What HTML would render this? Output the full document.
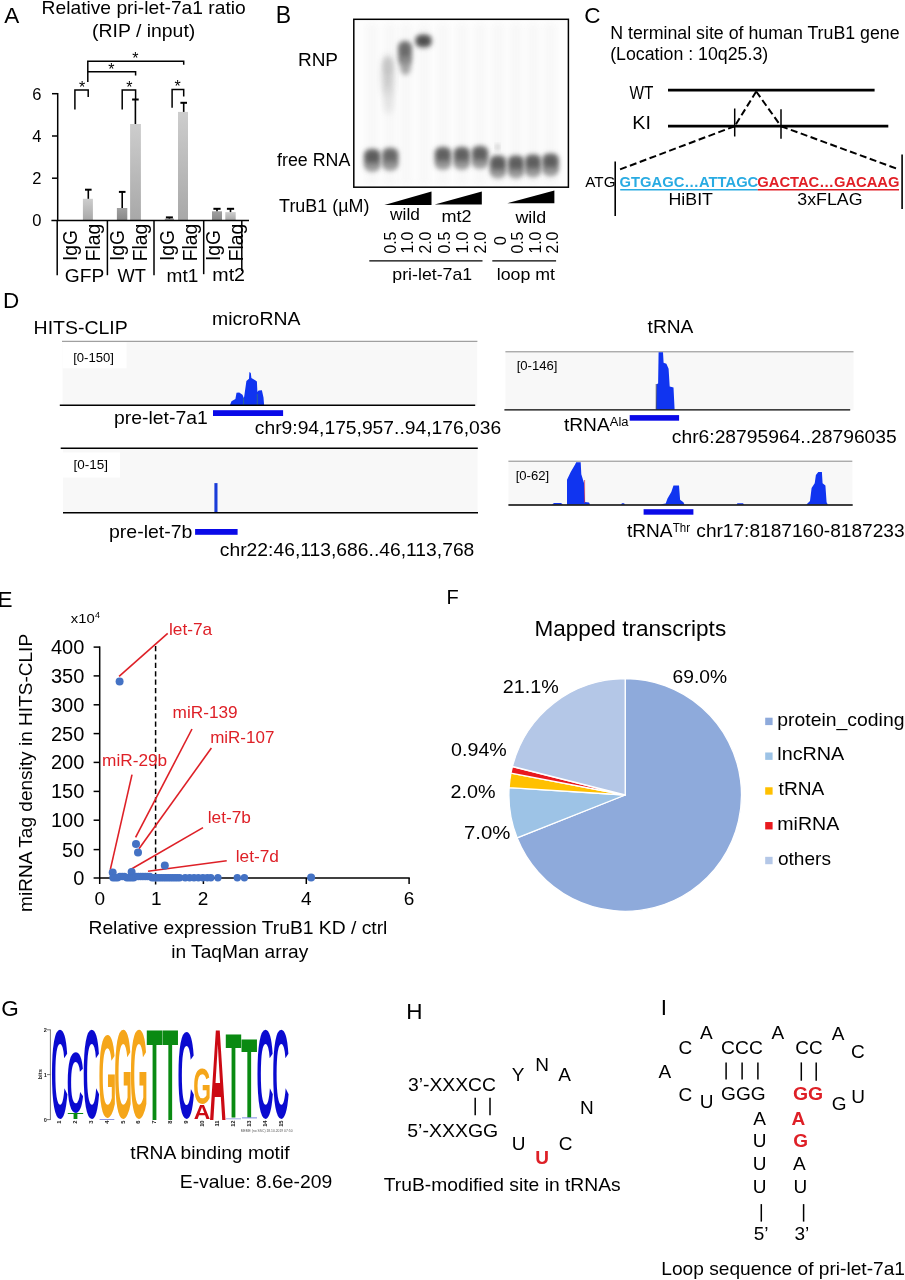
<!DOCTYPE html>
<html><head><meta charset="utf-8"><title>Figure</title>
<style>html,body{margin:0;padding:0;background:#fff}svg{display:block;will-change:transform}text{font-family:"Liberation Sans",sans-serif}</style></head><body>
<svg width="905" height="1280" viewBox="0 0 905 1280" font-family="Liberation Sans, sans-serif">
<defs>
<linearGradient id="gbL" x1="0" y1="0" x2="0" y2="1"><stop offset="0" stop-color="#cdcdcd"/><stop offset="1" stop-color="#a8a8a8"/></linearGradient>
<linearGradient id="gbD" x1="0" y1="0" x2="0" y2="1"><stop offset="0" stop-color="#a0a0a0"/><stop offset="1" stop-color="#888"/></linearGradient>
<filter id="bl" x="-50%" y="-50%" width="200%" height="200%"><feGaussianBlur stdDeviation="2.6"/></filter>
<filter id="bl2" x="-50%" y="-50%" width="200%" height="200%"><feGaussianBlur stdDeviation="3.5"/></filter>
<clipPath id="gelclip"><rect x="354" y="19.5" width="214" height="167.5"/></clipPath>
</defs>
<rect width="905" height="1280" fill="#fff"/>
<g id="pA">
<text x="4.2" y="22.6" font-size="22.5" >A</text>
<text x="41.58" y="14.2" font-size="19" textLength="204.19" lengthAdjust="spacingAndGlyphs" >Relative pri-let-7a1 ratio</text>
<text x="92.08" y="37.2" font-size="19" textLength="103.19" lengthAdjust="spacingAndGlyphs" >(RIP / input)</text>
<rect x="82.9" y="198.8" width="10" height="21.599999999999994" fill="url(#gbL)" />
<rect x="116.9" y="208" width="10.4" height="12.400000000000006" fill="url(#gbD)" />
<rect x="130.1" y="124" width="10.8" height="96.4" fill="url(#gbL)" />
<rect x="164.8" y="218.6" width="9.2" height="1.8000000000000114" fill="url(#gbD)" />
<rect x="178" y="111.9" width="10" height="108.5" fill="url(#gbL)" />
<rect x="212" y="211.3" width="10" height="9.099999999999994" fill="url(#gbD)" />
<rect x="225.3" y="212.1" width="10.4" height="8.300000000000011" fill="url(#gbL)" />
<line x1="88.3" y1="189.7" x2="88.3" y2="198.8" stroke="#000" stroke-width="1.6" />
<line x1="85.0" y1="189.7" x2="91.6" y2="189.7" stroke="#000" stroke-width="2" />
<line x1="122.2" y1="191.9" x2="122.2" y2="208" stroke="#000" stroke-width="1.6" />
<line x1="118.9" y1="191.9" x2="125.5" y2="191.9" stroke="#000" stroke-width="2" />
<line x1="135.4" y1="99.5" x2="135.4" y2="124" stroke="#000" stroke-width="1.6" />
<line x1="132.1" y1="99.5" x2="138.70000000000002" y2="99.5" stroke="#000" stroke-width="2" />
<line x1="169.4" y1="217.4" x2="169.4" y2="218.6" stroke="#000" stroke-width="1.6" />
<line x1="165.9" y1="217.4" x2="172.9" y2="217.4" stroke="#000" stroke-width="2" />
<line x1="183.7" y1="102.8" x2="183.7" y2="111.9" stroke="#000" stroke-width="1.6" />
<line x1="180.39999999999998" y1="102.8" x2="187.0" y2="102.8" stroke="#000" stroke-width="2" />
<line x1="217" y1="208.8" x2="217" y2="211.3" stroke="#000" stroke-width="1.6" />
<line x1="213.4" y1="208.8" x2="220.6" y2="208.8" stroke="#000" stroke-width="2" />
<line x1="230.5" y1="208.8" x2="230.5" y2="212.1" stroke="#000" stroke-width="1.6" />
<line x1="226.9" y1="208.8" x2="234.1" y2="208.8" stroke="#000" stroke-width="2" />
<line x1="57.7" y1="93" x2="57.7" y2="221.1" stroke="#000" stroke-width="1.5" />
<line x1="51.4" y1="220.4" x2="249" y2="220.4" stroke="#000" stroke-width="1.5" />
<line x1="52" y1="93.7" x2="57.7" y2="93.7" stroke="#000" stroke-width="1.5" />
<line x1="52" y1="136" x2="57.7" y2="136" stroke="#000" stroke-width="1.5" />
<line x1="52" y1="178.2" x2="57.7" y2="178.2" stroke="#000" stroke-width="1.5" />
<text x="41.5" y="99.60000000000001" font-size="16.5" text-anchor="end" >6</text>
<text x="41.5" y="141.9" font-size="16.5" text-anchor="end" >4</text>
<text x="41.5" y="184.1" font-size="16.5" text-anchor="end" >2</text>
<text x="41.5" y="226.3" font-size="16.5" text-anchor="end" >0</text>
<line x1="57.2" y1="220.4" x2="57.2" y2="275.2" stroke="#000" stroke-width="1.5" />
<line x1="107.4" y1="220.4" x2="107.4" y2="275.2" stroke="#000" stroke-width="1.5" />
<line x1="154" y1="220.4" x2="154" y2="275.2" stroke="#000" stroke-width="1.5" />
<line x1="203.7" y1="220.4" x2="203.7" y2="274.2" stroke="#000" stroke-width="1.5" />
<line x1="241.8" y1="220.4" x2="241.8" y2="271" stroke="#000" stroke-width="1.5" />
<text transform="translate(76.8,261) rotate(-90)" font-size="19.3">IgG</text>
<text transform="translate(123.8,261) rotate(-90)" font-size="19.3">IgG</text>
<text transform="translate(173.9,261) rotate(-90)" font-size="19.3">IgG</text>
<text transform="translate(219.5,261) rotate(-90)" font-size="19.3">IgG</text>
<text transform="translate(99.9,261.2) rotate(-90)" font-size="19.3">Flag</text>
<text transform="translate(147.3,261.2) rotate(-90)" font-size="19.3">Flag</text>
<text transform="translate(197,261.2) rotate(-90)" font-size="19.3">Flag</text>
<text transform="translate(242.6,261.2) rotate(-90)" font-size="19.3">Flag</text>
<text x="64.76" y="281.7" font-size="18.5" textLength="39.48" lengthAdjust="spacingAndGlyphs" >GFP</text>
<text x="117.61" y="281.7" font-size="18.5" textLength="28.38" lengthAdjust="spacingAndGlyphs" >WT</text>
<text x="166.61" y="282.2" font-size="18.5" textLength="31.77" lengthAdjust="spacingAndGlyphs" >mt1</text>
<text x="212.31" y="281" font-size="18.5" textLength="32.73" lengthAdjust="spacingAndGlyphs" >mt2</text>
<path d="M87.8,82 V61.3 H183.7 V64.8" stroke="#000" stroke-width="1.5" fill="none" />
<path d="M87.8,71.8 H135.6 V75.6" stroke="#000" stroke-width="1.5" fill="none" />
<path d="M74.9,109.4 V90 H88.2 V97" stroke="#000" stroke-width="1.5" fill="none" />
<path d="M122.2,109.4 V90 H135.6 V99.5" stroke="#000" stroke-width="1.5" fill="none" />
<path d="M172.1,107.7 V89.5 H183.7 V96.5" stroke="#000" stroke-width="1.5" fill="none" />
<text x="82" y="92.8" font-size="16" text-anchor="middle" >*</text>
<text x="111.4" y="74.8" font-size="16" text-anchor="middle" >*</text>
<text x="135.4" y="63.7" font-size="16" text-anchor="middle" >*</text>
<text x="129.3" y="92.8" font-size="16" text-anchor="middle" >*</text>
<text x="177.6" y="92.4" font-size="16" text-anchor="middle" >*</text>
</g>
<g id="pB">
<text x="275.8" y="23" font-size="23" >B</text>
<text x="297.91" y="66.4" font-size="18.5" textLength="40.13" lengthAdjust="spacingAndGlyphs" >RNP</text>
<text x="277.11" y="166.2" font-size="18" textLength="73.18" lengthAdjust="spacingAndGlyphs" >free RNA</text>
<text x="279.11" y="212.4" font-size="17.5" textLength="90.29" lengthAdjust="spacingAndGlyphs" >TruB1 (µM)</text>
<g clip-path="url(#gelclip)">
<rect x="354" y="19.5" width="214" height="167.5" fill="#fdfdfd" />
<rect x="366" y="24" width="12" height="160" fill="#f5f5f5" filter="url(#bl)" opacity="0.6"/>
<rect x="384" y="24" width="12" height="160" fill="#f5f5f5" filter="url(#bl)" opacity="0.6"/>
<rect x="400" y="24" width="12" height="160" fill="#f5f5f5" filter="url(#bl)" opacity="0.6"/>
<rect x="418" y="24" width="12" height="160" fill="#f5f5f5" filter="url(#bl)" opacity="0.6"/>
<rect x="437" y="24" width="12" height="160" fill="#f5f5f5" filter="url(#bl)" opacity="0.6"/>
<rect x="456" y="24" width="12" height="160" fill="#f5f5f5" filter="url(#bl)" opacity="0.6"/>
<rect x="474" y="24" width="12" height="160" fill="#f5f5f5" filter="url(#bl)" opacity="0.6"/>
<rect x="492" y="24" width="12" height="160" fill="#f5f5f5" filter="url(#bl)" opacity="0.6"/>
<rect x="510" y="24" width="12" height="160" fill="#f5f5f5" filter="url(#bl)" opacity="0.6"/>
<rect x="527" y="24" width="12" height="160" fill="#f5f5f5" filter="url(#bl)" opacity="0.6"/>
<rect x="544" y="24" width="12" height="160" fill="#f5f5f5" filter="url(#bl)" opacity="0.6"/>
<rect x="364.40000000000003" y="149.0" width="15.8" height="21" rx="6" ry="6" fill="#787878" filter="url(#bl)" opacity="1"/>
<rect x="365.8" y="161.0" width="13" height="11" rx="5" ry="5" fill="#a8a8a8" filter="url(#bl)" opacity="0.55"/>
<rect x="365.55" y="151.5" width="13.5" height="11" rx="4" ry="4" fill="#505050" filter="url(#bl)" opacity="0.7"/>
<rect x="382.3" y="148.0" width="15.8" height="21" rx="6" ry="6" fill="#787878" filter="url(#bl)" opacity="1"/>
<rect x="383.7" y="160.0" width="13" height="11" rx="5" ry="5" fill="#a8a8a8" filter="url(#bl)" opacity="0.55"/>
<rect x="383.45" y="150.5" width="13.5" height="11" rx="4" ry="4" fill="#505050" filter="url(#bl)" opacity="0.4"/>
<rect x="435.1" y="147.0" width="15.8" height="21" rx="6" ry="6" fill="#787878" filter="url(#bl)" opacity="1"/>
<rect x="436.5" y="159.0" width="13" height="11" rx="5" ry="5" fill="#a8a8a8" filter="url(#bl)" opacity="0.55"/>
<rect x="436.25" y="149.5" width="13.5" height="11" rx="4" ry="4" fill="#505050" filter="url(#bl)" opacity="0.6"/>
<rect x="453.90000000000003" y="147.0" width="15.8" height="21" rx="6" ry="6" fill="#787878" filter="url(#bl)" opacity="1"/>
<rect x="455.3" y="159.0" width="13" height="11" rx="5" ry="5" fill="#a8a8a8" filter="url(#bl)" opacity="0.55"/>
<rect x="455.05" y="149.5" width="13.5" height="11" rx="4" ry="4" fill="#505050" filter="url(#bl)" opacity="0.6"/>
<rect x="472.1" y="146.0" width="15.8" height="21" rx="6" ry="6" fill="#787878" filter="url(#bl)" opacity="1"/>
<rect x="473.5" y="158.0" width="13" height="11" rx="5" ry="5" fill="#a8a8a8" filter="url(#bl)" opacity="0.55"/>
<rect x="473.25" y="148.5" width="13.5" height="11" rx="4" ry="4" fill="#505050" filter="url(#bl)" opacity="0.6"/>
<rect x="490.1" y="155.5" width="15.8" height="21" rx="6" ry="6" fill="#787878" filter="url(#bl)" opacity="1"/>
<rect x="491.5" y="167.5" width="13" height="11" rx="5" ry="5" fill="#a8a8a8" filter="url(#bl)" opacity="0.55"/>
<rect x="491.25" y="158.0" width="13.5" height="11" rx="4" ry="4" fill="#505050" filter="url(#bl)" opacity="0.7"/>
<rect x="508.1" y="155.5" width="15.8" height="21" rx="6" ry="6" fill="#787878" filter="url(#bl)" opacity="1"/>
<rect x="509.5" y="167.5" width="13" height="11" rx="5" ry="5" fill="#a8a8a8" filter="url(#bl)" opacity="0.55"/>
<rect x="509.25" y="158.0" width="13.5" height="11" rx="4" ry="4" fill="#505050" filter="url(#bl)" opacity="0.65"/>
<rect x="525.1" y="154.5" width="15.8" height="21" rx="6" ry="6" fill="#787878" filter="url(#bl)" opacity="1"/>
<rect x="526.5" y="166.5" width="13" height="11" rx="5" ry="5" fill="#a8a8a8" filter="url(#bl)" opacity="0.55"/>
<rect x="526.25" y="157.0" width="13.5" height="11" rx="4" ry="4" fill="#505050" filter="url(#bl)" opacity="0.65"/>
<rect x="542.6" y="153.5" width="15.8" height="21" rx="6" ry="6" fill="#787878" filter="url(#bl)" opacity="1"/>
<rect x="544.0" y="165.5" width="13" height="11" rx="5" ry="5" fill="#a8a8a8" filter="url(#bl)" opacity="0.55"/>
<rect x="543.75" y="156.0" width="13.5" height="11" rx="4" ry="4" fill="#505050" filter="url(#bl)" opacity="0.65"/>
<rect x="415.25" y="34.5" width="16.5" height="13" rx="6" ry="6" fill="#606060" filter="url(#bl)" opacity="1"/>
<rect x="418.0" y="37.5" width="11" height="6" rx="3" ry="3" fill="#3a3a3a" filter="url(#bl)" opacity="0.6"/>
<rect x="398.25" y="41.0" width="13.5" height="24" rx="6" ry="6" fill="#7a7a7a" filter="url(#bl)" opacity="1"/>
<rect x="400.0" y="44.0" width="10" height="12" rx="4" ry="4" fill="#5a5a5a" filter="url(#bl)" opacity="0.5"/>
<ellipse cx="405.5" cy="66" rx="5.5" ry="9" fill="#909090" filter="url(#bl)" opacity="0.8"/>
<ellipse cx="387.8" cy="76" rx="5.5" ry="21" fill="#c4c4c4" filter="url(#bl2)" opacity="0.95"/>
<ellipse cx="388" cy="66" rx="5" ry="9" fill="#c0c0c0" filter="url(#bl)" opacity="0.6"/>
<ellipse cx="388.5" cy="100" rx="4.2" ry="14" fill="#dcdcdc" filter="url(#bl2)" opacity="0.9"/>
<ellipse cx="497.5" cy="147" rx="1.5" ry="2.5" fill="#8a8a8a" filter="url(#bl)" opacity="0.9"/>
</g>
<rect x="353.8" y="19.3" width="214.6" height="167.9" fill="none" stroke="#000" stroke-width="1.5"/>
<path d="M384.4,204.9 L431.5,191.5 V204.9 Z" fill="#000"/>
<path d="M434.7,204.4 L481.8,191.5 V204.4 Z" fill="#000"/>
<path d="M507.3,203.3 L554.4,190.6 V203.3 Z" fill="#000"/>
<text x="390.12" y="219.8" font-size="17" textLength="29.77" lengthAdjust="spacingAndGlyphs" >wild</text>
<text x="441.53" y="222.1" font-size="17" textLength="30.05" lengthAdjust="spacingAndGlyphs" >mt2</text>
<text x="515.41" y="222.6" font-size="17" textLength="30.77" lengthAdjust="spacingAndGlyphs" >wild</text>
<text transform="translate(395.6,253.6) rotate(-90)" font-size="16.5" textLength="22" lengthAdjust="spacingAndGlyphs">0.5</text>
<text transform="translate(413.4,253.6) rotate(-90)" font-size="16.5" textLength="22" lengthAdjust="spacingAndGlyphs">1.0</text>
<text transform="translate(430.6,253.6) rotate(-90)" font-size="16.5" textLength="22" lengthAdjust="spacingAndGlyphs">2.0</text>
<text transform="translate(450.2,253.6) rotate(-90)" font-size="16.5" textLength="22" lengthAdjust="spacingAndGlyphs">0.5</text>
<text transform="translate(467.6,253.6) rotate(-90)" font-size="16.5" textLength="22" lengthAdjust="spacingAndGlyphs">1.0</text>
<text transform="translate(486.2,253.6) rotate(-90)" font-size="16.5" textLength="22" lengthAdjust="spacingAndGlyphs">2.0</text>
<text transform="translate(523.4,253.6) rotate(-90)" font-size="16.5" textLength="22" lengthAdjust="spacingAndGlyphs">0.5</text>
<text transform="translate(540.8,253.6) rotate(-90)" font-size="16.5" textLength="22" lengthAdjust="spacingAndGlyphs">1.0</text>
<text transform="translate(558.2,253.6) rotate(-90)" font-size="16.5" textLength="22" lengthAdjust="spacingAndGlyphs">2.0</text>
<text transform="translate(506.4,245.2) rotate(-90)" font-size="16.5">0</text>
<line x1="369.3" y1="260.9" x2="482.5" y2="260.9" stroke="#000" stroke-width="1.4" />
<line x1="492.3" y1="260.9" x2="556.1" y2="260.9" stroke="#000" stroke-width="1.4" />
<text x="392.33" y="279.7" font-size="17" textLength="79.85" lengthAdjust="spacingAndGlyphs" >pri-let-7a1</text>
<text x="496.73" y="279.7" font-size="17" textLength="58.26" lengthAdjust="spacingAndGlyphs" >loop mt</text>
</g>
<g id="pC">
<text x="584.2" y="22.9" font-size="22.5" >C</text>
<text x="610.19" y="39.4" font-size="17.5" textLength="289.41" lengthAdjust="spacingAndGlyphs" >N terminal site of human TruB1 gene</text>
<text x="610.19" y="60.2" font-size="17.5" textLength="158.01" lengthAdjust="spacingAndGlyphs" >(Location : 10q25.3)</text>
<text x="629.61" y="98.5" font-size="17.5" textLength="23.88" lengthAdjust="spacingAndGlyphs" >WT</text>
<text x="632.39" y="128.8" font-size="17.5" textLength="18.62" lengthAdjust="spacingAndGlyphs" >KI</text>
<line x1="668" y1="90.1" x2="874.6" y2="90.1" stroke="#000" stroke-width="2.8" />
<line x1="668" y1="126.2" x2="888.3" y2="126.2" stroke="#000" stroke-width="2.8" />
<line x1="734.7" y1="108.5" x2="734.7" y2="136.5" stroke="#000" stroke-width="1.5" />
<line x1="781" y1="109.2" x2="781" y2="138.8" stroke="#000" stroke-width="1.5" />
<line x1="756.2" y1="91.5" x2="734.7" y2="126.2" stroke="#000" stroke-width="2" stroke-dasharray="7 3.5"/>
<line x1="756.2" y1="91.5" x2="781" y2="126.2" stroke="#000" stroke-width="2" stroke-dasharray="7 3.5"/>
<line x1="734.7" y1="126.2" x2="618.5" y2="170" stroke="#000" stroke-width="2" stroke-dasharray="7 3.5"/>
<line x1="781" y1="126.2" x2="899" y2="169.5" stroke="#000" stroke-width="2" stroke-dasharray="7 3.5"/>
<line x1="615.2" y1="161.5" x2="615.2" y2="216.1" stroke="#000" stroke-width="1.6" />
<line x1="902.1" y1="154.4" x2="902.1" y2="209" stroke="#000" stroke-width="1.6" />
<text x="585.33" y="187.4" font-size="14.5" textLength="30.15" lengthAdjust="spacingAndGlyphs" >ATG</text>
<text x="619.62" y="187.4" font-size="14.5" fill="#29abe2" font-weight="bold" textLength="138.66" lengthAdjust="spacingAndGlyphs" >GTGAGC…ATTAGC</text>
<text x="757.32" y="187.4" font-size="14.5" fill="#e11f26" font-weight="bold" textLength="142.16" lengthAdjust="spacingAndGlyphs" >GACTAC…GACAAG</text>
<line x1="620.2" y1="189.8" x2="757.8" y2="189.8" stroke="#29abe2" stroke-width="1.5" />
<line x1="757.8" y1="189.8" x2="899" y2="189.8" stroke="#e11f26" stroke-width="1.5" />
<text x="668.52" y="205.4" font-size="17" textLength="44.46" lengthAdjust="spacingAndGlyphs" >HiBIT</text>
<text x="797.32" y="205.4" font-size="17" textLength="65.26" lengthAdjust="spacingAndGlyphs" >3xFLAG</text>
</g>
<g id="pD">
<text x="3" y="308.2" font-size="22.5" >D</text>
<text x="33.58" y="333.8" font-size="19" textLength="94.19" lengthAdjust="spacingAndGlyphs" >HITS-CLIP</text>
<text x="211.97" y="325.1" font-size="19" textLength="88.42" lengthAdjust="spacingAndGlyphs" >microRNA</text>
<text x="647.61" y="333.3" font-size="19" textLength="45.79" lengthAdjust="spacingAndGlyphs" >tRNA</text>
<rect x="62.6" y="341.3" width="414.6" height="64" fill="#f8f8f8" />
<rect x="62.6" y="342.3" width="64" height="26" fill="#fff" />
<line x1="62" y1="341.3" x2="477.4" y2="341.3" stroke="#8a8a8a" stroke-width="1" />
<text x="73.16" y="362" font-size="12.5" textLength="40.84" lengthAdjust="spacingAndGlyphs" >[0-150]</text>
<path d="M230,405 L231.5,401.3 L235.4,399.1 L236.5,392.8 L239.2,392.5 L242.5,394.7 L243.8,398 L244.2,396.4 L246.4,380.9 L249,378.7 L249.4,372 L250.8,373.1 L251.4,378.1 L255.2,380.3 L256.9,381.4 L257.4,392 L258.6,390.6 L261.9,390.3 L263.5,397.5 L264.1,405 Z" fill="#1034f0"/>
<line x1="243.6" y1="398" x2="243.6" y2="405" stroke="#3a8a5a" stroke-width="0.6" />
<line x1="257.3" y1="394" x2="257.3" y2="405" stroke="#3a8a5a" stroke-width="0.6" />
<line x1="59.8" y1="405.3" x2="475.2" y2="405.3" stroke="#000" stroke-width="1.4" />
<rect x="213" y="410.2" width="70.1" height="5.8" fill="#0a0ae8" />
<text x="114.08" y="424.3" font-size="19" textLength="93.65" lengthAdjust="spacingAndGlyphs" >pre-let-7a1</text>
<text x="254.84" y="433.8" font-size="19" textLength="246.32" lengthAdjust="spacingAndGlyphs" >chr9:94,175,957..94,176,036</text>
<rect x="63" y="448.2" width="414.5" height="64.5" fill="#f8f8f8" />
<rect x="63" y="452.5" width="57" height="25" fill="#fff" />
<line x1="60.7" y1="448.2" x2="477.8" y2="448.2" stroke="#000" stroke-width="1.4" />
<text x="73.56" y="469.3" font-size="12.5" textLength="34.44" lengthAdjust="spacingAndGlyphs" >[0-15]</text>
<rect x="214.4" y="483.1" width="3.1" height="29.6" fill="#1a3cd8" />
<line x1="63" y1="512.8" x2="478" y2="512.8" stroke="#000" stroke-width="1.4" />
<rect x="195.1" y="529" width="42.5" height="5.8" fill="#0a0ae8" />
<text x="108.98" y="538.4" font-size="19" textLength="83.48" lengthAdjust="spacingAndGlyphs" >pre-let-7b</text>
<text x="219.84" y="555.8" font-size="19" textLength="254.52" lengthAdjust="spacingAndGlyphs" >chr22:46,113,686..46,113,768</text>
<rect x="505.5" y="351.8" width="348" height="58" fill="#f8f8f8" />
<line x1="505.4" y1="351.8" x2="853.5" y2="351.8" stroke="#8a8a8a" stroke-width="1" />
<text x="516.66" y="369.5" font-size="12.5" textLength="40.84" lengthAdjust="spacingAndGlyphs" >[0-146]</text>
<path d="M655.9,409.5 L656.4,384.2 L658.1,383.6 L658.6,352.2 L663,352.2 L663.6,362.7 L666.4,363.8 L668.6,368.7 L669.7,386.4 L673.5,387.5 L674.6,409.5 Z" fill="#1034f0"/>
<line x1="656.2" y1="384" x2="656.2" y2="409" stroke="#555" stroke-width="0.8" />
<line x1="504.4" y1="409.9" x2="850.2" y2="409.9" stroke="#000" stroke-width="1.4" />
<rect x="629.7" y="415.1" width="49.4" height="5.6" fill="#0a0ae8" />
<text x="563.9" y="430.8" font-size="19" textLength="45.79" lengthAdjust="spacingAndGlyphs" >tRNA</text>
<text x="609.74" y="425.6" font-size="12" textLength="18.74" lengthAdjust="spacingAndGlyphs" >Ala</text>
<text x="671.84" y="443.4" font-size="19" textLength="224.92" lengthAdjust="spacingAndGlyphs" >chr6:28795964..28796035</text>
<rect x="508.4" y="461.2" width="344" height="44" fill="#f8f8f8" />
<line x1="508.4" y1="461.2" x2="852.3" y2="461.2" stroke="#8a8a8a" stroke-width="1" />
<text x="515.66" y="479.8" font-size="12.5" textLength="33.44" lengthAdjust="spacingAndGlyphs" >[0-62]</text>
<path d="M552,504.5 L554,503 L561,503 L563,504.5 Z M567,504.5 L567,479.8 L570.7,472.1 L575.1,464.4 L576.2,462.2 L580.7,462.2 L581.3,474.3 L584,483.1 L585.1,502 L589,502.5 L590,504.5 Z M621,504.5 L622,503.3 L624,503.3 L625,504.5 Z M660,504.5 L665.7,503.6 L667.5,498.6 L671.3,492 L673.5,485.4 L679,485.4 L680.1,499.7 L683.4,502.2 L684.5,504.5 Z M736.5,504.5 L737.5,503.3 L743,503.3 L744,504.5 Z M806.4,504.5 L810,501.1 L811.6,488 L814.7,483.3 L815.9,475 L818.3,472.1 L821.9,472.1 L822.6,483.3 L825.4,485.6 L826.6,502.3 L827.8,504.5 Z" fill="#1034f0"/>
<line x1="584.6" y1="480" x2="584.6" y2="503" stroke="#d03050" stroke-width="0.7" />
<line x1="508.4" y1="505" x2="852.7" y2="505" stroke="#000" stroke-width="1.4" />
<rect x="643.6" y="509.2" width="49.8" height="5.5" fill="#0a0ae8" />
<text x="626.9" y="536.9" font-size="19" textLength="45.59" lengthAdjust="spacingAndGlyphs" >tRNA</text>
<text x="672.74" y="531.8" font-size="12" textLength="17.32" lengthAdjust="spacingAndGlyphs" >Thr</text>
<text x="696.34" y="537.4" font-size="19" textLength="208.22" lengthAdjust="spacingAndGlyphs" >chr17:8187160-8187233</text>
</g>
<g id="pE">
<text x="-2.5" y="607.3" font-size="22.5" >E</text>
<text x="70.83" y="622.8" font-size="13.5" textLength="23.91" lengthAdjust="spacingAndGlyphs" >x10</text>
<text x="95" y="617.6" font-size="9" >4</text>
<text transform="translate(31.6,911.9) rotate(-90)" font-size="19" textLength="278" lengthAdjust="spacingAndGlyphs">miRNA Tag density in HITS-CLIP</text>
<line x1="99.7" y1="646.4" x2="99.7" y2="878.4" stroke="#000" stroke-width="1.5" />
<line x1="93.6" y1="878" x2="409.8" y2="878" stroke="#000" stroke-width="1.5" />
<line x1="93.6" y1="647.1" x2="99.7" y2="647.1" stroke="#000" stroke-width="1.5" />
<text x="84.3" y="654.0" font-size="20" text-anchor="end" >400</text>
<line x1="93.6" y1="675.9" x2="99.7" y2="675.9" stroke="#000" stroke-width="1.5" />
<text x="84.3" y="682.8" font-size="20" text-anchor="end" >350</text>
<line x1="93.6" y1="704.8" x2="99.7" y2="704.8" stroke="#000" stroke-width="1.5" />
<text x="84.3" y="711.6999999999999" font-size="20" text-anchor="end" >300</text>
<line x1="93.6" y1="733.6" x2="99.7" y2="733.6" stroke="#000" stroke-width="1.5" />
<text x="84.3" y="740.5" font-size="20" text-anchor="end" >250</text>
<line x1="93.6" y1="762.4" x2="99.7" y2="762.4" stroke="#000" stroke-width="1.5" />
<text x="84.3" y="769.3" font-size="20" text-anchor="end" >200</text>
<line x1="93.6" y1="791.4" x2="99.7" y2="791.4" stroke="#000" stroke-width="1.5" />
<text x="84.3" y="798.3" font-size="20" text-anchor="end" >150</text>
<line x1="93.6" y1="820.2" x2="99.7" y2="820.2" stroke="#000" stroke-width="1.5" />
<text x="84.3" y="827.1" font-size="20" text-anchor="end" >100</text>
<line x1="93.6" y1="849.6" x2="99.7" y2="849.6" stroke="#000" stroke-width="1.5" />
<text x="84.3" y="856.5" font-size="20" text-anchor="end" >50</text>
<text x="84.3" y="884.9" font-size="20" text-anchor="end" >0</text>
<line x1="99.7" y1="878" x2="99.7" y2="884" stroke="#000" stroke-width="1.5" />
<line x1="203.4" y1="878" x2="203.4" y2="884" stroke="#000" stroke-width="1.5" />
<line x1="306.3" y1="878" x2="306.3" y2="884" stroke="#000" stroke-width="1.5" />
<line x1="409.1" y1="878" x2="409.1" y2="884" stroke="#000" stroke-width="1.5" />
<line x1="155.6" y1="646" x2="155.6" y2="884.5" stroke="#000" stroke-width="1.5" stroke-dasharray="5.2 3.2"/>
<text x="99.7" y="905" font-size="19" text-anchor="middle" >0</text>
<text x="156.4" y="905" font-size="19" text-anchor="middle" >1</text>
<text x="203" y="905" font-size="19" text-anchor="middle" >2</text>
<text x="306.3" y="905" font-size="19" text-anchor="middle" >4</text>
<text x="409.1" y="905" font-size="19" text-anchor="middle" >6</text>
<text x="88.48" y="934.2" font-size="19" textLength="298.95" lengthAdjust="spacingAndGlyphs" >Relative expression TruB1 KD / ctrl</text>
<text x="171.17" y="957.6" font-size="19" textLength="137.12" lengthAdjust="spacingAndGlyphs" >in TaqMan array</text>
<line x1="119.1" y1="676.3" x2="167.7" y2="633.3" stroke="#de2027" stroke-width="1.6" />
<line x1="192" y1="729" x2="135.6" y2="837.3" stroke="#de2027" stroke-width="1.6" />
<line x1="211.4" y1="748" x2="139" y2="848.7" stroke="#de2027" stroke-width="1.6" />
<line x1="132" y1="774.6" x2="110.3" y2="869.6" stroke="#de2027" stroke-width="1.6" />
<line x1="203" y1="827.6" x2="129.3" y2="870.2" stroke="#de2027" stroke-width="1.6" />
<line x1="226.7" y1="860.8" x2="148" y2="871.2" stroke="#de2027" stroke-width="1.6" />
<circle cx="119.6" cy="681.6" r="4" fill="#4472c4"/>
<circle cx="112.7" cy="872.4" r="4" fill="#4472c4"/>
<circle cx="131.6" cy="872.1" r="4" fill="#4472c4"/>
<circle cx="136.0" cy="844.1" r="4" fill="#4472c4"/>
<circle cx="138.0" cy="852.6" r="4" fill="#4472c4"/>
<circle cx="164.8" cy="865.4" r="4" fill="#4472c4"/>
<circle cx="113.0" cy="877.7" r="3.7" fill="#4472c4"/>
<circle cx="115.3" cy="877.7" r="3.7" fill="#4472c4"/>
<circle cx="117.6" cy="877.7" r="3.7" fill="#4472c4"/>
<circle cx="119.9" cy="876.5" r="3.7" fill="#4472c4"/>
<circle cx="122.2" cy="876.5" r="3.7" fill="#4472c4"/>
<circle cx="124.5" cy="876.5" r="3.7" fill="#4472c4"/>
<circle cx="126.8" cy="877.7" r="3.7" fill="#4472c4"/>
<circle cx="129.1" cy="877.7" r="3.7" fill="#4472c4"/>
<circle cx="131.4" cy="877.7" r="3.7" fill="#4472c4"/>
<circle cx="133.7" cy="877.7" r="3.7" fill="#4472c4"/>
<circle cx="136.0" cy="876.5" r="3.7" fill="#4472c4"/>
<circle cx="138.3" cy="876.5" r="3.7" fill="#4472c4"/>
<circle cx="140.6" cy="876.5" r="3.7" fill="#4472c4"/>
<circle cx="142.9" cy="876.5" r="3.7" fill="#4472c4"/>
<circle cx="145.2" cy="876.5" r="3.7" fill="#4472c4"/>
<circle cx="147.5" cy="876.5" r="3.7" fill="#4472c4"/>
<circle cx="149.8" cy="876.5" r="3.7" fill="#4472c4"/>
<circle cx="152.1" cy="877.7" r="3.7" fill="#4472c4"/>
<circle cx="154.4" cy="877.7" r="3.7" fill="#4472c4"/>
<circle cx="156.7" cy="877.7" r="3.7" fill="#4472c4"/>
<circle cx="159.0" cy="877.7" r="3.7" fill="#4472c4"/>
<circle cx="161.3" cy="877.7" r="3.7" fill="#4472c4"/>
<circle cx="163.6" cy="877.7" r="3.7" fill="#4472c4"/>
<circle cx="165.9" cy="877.7" r="3.7" fill="#4472c4"/>
<circle cx="168.2" cy="877.7" r="3.7" fill="#4472c4"/>
<circle cx="170.5" cy="877.7" r="3.7" fill="#4472c4"/>
<circle cx="172.8" cy="877.7" r="3.7" fill="#4472c4"/>
<circle cx="175.1" cy="877.7" r="3.7" fill="#4472c4"/>
<circle cx="177.4" cy="877.7" r="3.7" fill="#4472c4"/>
<circle cx="179.7" cy="877.7" r="3.7" fill="#4472c4"/>
<circle cx="185.2" cy="877.7" r="3.7" fill="#4472c4"/>
<circle cx="189.6" cy="877.7" r="3.7" fill="#4472c4"/>
<circle cx="194.0" cy="877.7" r="3.7" fill="#4472c4"/>
<circle cx="198.4" cy="877.7" r="3.7" fill="#4472c4"/>
<circle cx="202.9" cy="877.7" r="3.7" fill="#4472c4"/>
<circle cx="207.3" cy="877.7" r="3.7" fill="#4472c4"/>
<circle cx="210.8" cy="877.7" r="3.7" fill="#4472c4"/>
<circle cx="217.9" cy="877.7" r="3.7" fill="#4472c4"/>
<circle cx="237.3" cy="877.7" r="3.7" fill="#4472c4"/>
<circle cx="244.4" cy="877.7" r="3.7" fill="#4472c4"/>
<circle cx="311.1" cy="877.4" r="4" fill="#4472c4"/>
<text x="168.95" y="635" font-size="16.6" fill="#de2027" textLength="43.21" lengthAdjust="spacingAndGlyphs" >let-7a</text>
<text x="172.56" y="717.6" font-size="16.6" fill="#de2027" textLength="65.11" lengthAdjust="spacingAndGlyphs" >miR-139</text>
<text x="210.16" y="743.2" font-size="16.6" fill="#de2027" textLength="64.21" lengthAdjust="spacingAndGlyphs" >miR-107</text>
<text x="102.05" y="765.5" font-size="16.6" fill="#de2027" textLength="65.11" lengthAdjust="spacingAndGlyphs" >miR-29b</text>
<text x="207.75" y="822.8" font-size="16.6" fill="#de2027" textLength="43.21" lengthAdjust="spacingAndGlyphs" >let-7b</text>
<text x="235.75" y="862.2" font-size="16.6" fill="#de2027" textLength="43.21" lengthAdjust="spacingAndGlyphs" >let-7d</text>
</g>
<g id="pF">
<text x="446.5" y="603.6" font-size="20" >F</text>
<text x="534.45" y="636" font-size="22" textLength="191.73" lengthAdjust="spacingAndGlyphs" >Mapped transcripts</text>
<path d="M625.2,795 L625.20,678.70 A116.3,116.3 0 1 1 517.07,837.81 Z" fill="#8eaadb" stroke="#fff" stroke-width="1.3" stroke-linejoin="round"/>
<path d="M625.2,795 L517.07,837.81 A116.3,116.3 0 0 1 509.13,787.70 Z" fill="#9dc3e6" stroke="#fff" stroke-width="1.3" stroke-linejoin="round"/>
<path d="M625.2,795 L509.13,787.70 A116.3,116.3 0 0 1 510.96,773.21 Z" fill="#ffc000" stroke="#fff" stroke-width="1.3" stroke-linejoin="round"/>
<path d="M625.2,795 L510.96,773.21 A116.3,116.3 0 0 1 512.45,766.50 Z" fill="#e8191e" stroke="#fff" stroke-width="1.3" stroke-linejoin="round"/>
<path d="M625.2,795 L512.45,766.50 A116.3,116.3 0 0 1 625.20,678.70 Z" fill="#b4c7e7" stroke="#fff" stroke-width="1.3" stroke-linejoin="round"/>
<text x="672.54" y="682.6" font-size="19" textLength="54.52" lengthAdjust="spacingAndGlyphs" >69.0%</text>
<text x="502.88" y="693.3" font-size="19" textLength="55.89" lengthAdjust="spacingAndGlyphs" >21.1%</text>
<text x="451.14" y="755.5" font-size="19" textLength="55.62" lengthAdjust="spacingAndGlyphs" >0.94%</text>
<text x="450.47" y="797.9" font-size="19" textLength="44.98" lengthAdjust="spacingAndGlyphs" >2.0%</text>
<text x="463.97" y="838.6" font-size="19" textLength="46.39" lengthAdjust="spacingAndGlyphs" >7.0%</text>
<rect x="765.2" y="717.6999999999999" width="7.4" height="7.4" fill="#8eaadb" />
<text x="777.28" y="725.6999999999999" font-size="19" textLength="127.19" lengthAdjust="spacingAndGlyphs" >protein_coding</text>
<rect x="765.2" y="752.4799999999999" width="7.4" height="7.4" fill="#9dc3e6" />
<text x="777.28" y="760.4799999999999" font-size="19" textLength="67.02" lengthAdjust="spacingAndGlyphs" >lncRNA</text>
<rect x="765.2" y="787.26" width="7.4" height="7.4" fill="#ffc000" />
<text x="778.61" y="795.26" font-size="19" textLength="45.69" lengthAdjust="spacingAndGlyphs" >tRNA</text>
<rect x="765.2" y="822.04" width="7.4" height="7.4" fill="#e8191e" />
<text x="777.28" y="830.04" font-size="19" textLength="62.02" lengthAdjust="spacingAndGlyphs" >miRNA</text>
<rect x="765.2" y="856.8199999999999" width="7.4" height="7.4" fill="#b4c7e7" />
<text x="777.94" y="864.8199999999999" font-size="19" textLength="53.02" lengthAdjust="spacingAndGlyphs" >others</text>
</g>
<g id="pG">
<text x="1.2" y="1015.7" font-size="22.5" >G</text>
<text transform="translate(52.00,1030.60) scale(0.02355,0.12556) translate(-41,698)" font-size="1000" font-weight="bold" fill="#0a0ad0">C</text>
<text transform="translate(67.80,1052.10) scale(0.02355,0.08531) translate(-41,698)" font-size="1000" font-weight="bold" fill="#0a0ad0">C</text>
<text transform="translate(67.80,1112.80) scale(0.02615,0.00959) translate(-11,688)" font-size="1000" font-weight="bold" fill="#0a8a12">T</text>
<text transform="translate(83.60,1030.60) scale(0.02355,0.12556) translate(-41,698)" font-size="1000" font-weight="bold" fill="#0a0ad0">C</text>
<text transform="translate(99.40,1035.10) scale(0.02281,0.11695) translate(-41,698)" font-size="1000" font-weight="bold" fill="#f5a61a">G</text>
<text transform="translate(115.20,1030.60) scale(0.02281,0.12556) translate(-41,698)" font-size="1000" font-weight="bold" fill="#f5a61a">G</text>
<text transform="translate(131.00,1030.60) scale(0.02281,0.12556) translate(-41,698)" font-size="1000" font-weight="bold" fill="#f5a61a">G</text>
<text transform="translate(146.80,1030.70) scale(0.02615,0.12907) translate(-11,688)" font-size="1000" font-weight="bold" fill="#0a8a12">T</text>
<text transform="translate(162.60,1030.70) scale(0.02615,0.12907) translate(-11,688)" font-size="1000" font-weight="bold" fill="#0a8a12">T</text>
<text transform="translate(178.40,1033.20) scale(0.02355,0.12189) translate(-41,698)" font-size="1000" font-weight="bold" fill="#0a0ad0">C</text>
<text transform="translate(194.20,1069.70) scale(0.02281,0.04929) translate(-41,698)" font-size="1000" font-weight="bold" fill="#f5a61a">G</text>
<text transform="translate(194.20,1105.20) scale(0.02295,0.02078) translate(-25,688)" font-size="1000" font-weight="bold" fill="#cc0a14">A</text>
<text transform="translate(210.00,1030.70) scale(0.02295,0.12907) translate(-25,688)" font-size="1000" font-weight="bold" fill="#cc0a14">A</text>
<text transform="translate(225.80,1035.20) scale(0.02615,0.12049) translate(-11,688)" font-size="1000" font-weight="bold" fill="#0a8a12">T</text>
<text transform="translate(241.60,1039.00) scale(0.02615,0.11323) translate(-11,688)" font-size="1000" font-weight="bold" fill="#0a8a12">T</text>
<text transform="translate(257.40,1030.70) scale(0.02355,0.12542) translate(-41,698)" font-size="1000" font-weight="bold" fill="#0a0ad0">C</text>
<text transform="translate(273.20,1030.70) scale(0.02355,0.12542) translate(-41,698)" font-size="1000" font-weight="bold" fill="#0a0ad0">C</text>
<line x1="50.4" y1="1029.5" x2="50.4" y2="1119.9" stroke="#555" stroke-width="0.8" />
<line x1="47" y1="1029.8" x2="50.4" y2="1029.8" stroke="#555" stroke-width="0.8" />
<text x="46.8" y="1031.8" font-size="5.6" text-anchor="end" fill="#222" font-weight="bold" >2</text>
<line x1="47" y1="1074.6" x2="50.4" y2="1074.6" stroke="#555" stroke-width="0.8" />
<text x="46.8" y="1076.6" font-size="5.6" text-anchor="end" fill="#222" font-weight="bold" >1</text>
<line x1="47" y1="1119.6" x2="50.4" y2="1119.6" stroke="#555" stroke-width="0.8" />
<text x="46.8" y="1121.6" font-size="5.6" text-anchor="end" fill="#222" font-weight="bold" >0</text>
<text transform="translate(41.5,1074.3) rotate(-90)" font-size="5.8" text-anchor="middle" font-weight="bold" fill="#222">bits</text>
<text transform="translate(61.30,1120.4) rotate(-90)" font-size="5.8" text-anchor="end" font-weight="bold" fill="#222">1</text>
<text transform="translate(77.10,1120.4) rotate(-90)" font-size="5.8" text-anchor="end" font-weight="bold" fill="#222">2</text>
<text transform="translate(92.90,1120.4) rotate(-90)" font-size="5.8" text-anchor="end" font-weight="bold" fill="#222">3</text>
<text transform="translate(108.70,1120.4) rotate(-90)" font-size="5.8" text-anchor="end" font-weight="bold" fill="#222">4</text>
<text transform="translate(124.50,1120.4) rotate(-90)" font-size="5.8" text-anchor="end" font-weight="bold" fill="#222">5</text>
<text transform="translate(140.30,1120.4) rotate(-90)" font-size="5.8" text-anchor="end" font-weight="bold" fill="#222">6</text>
<text transform="translate(156.10,1120.4) rotate(-90)" font-size="5.8" text-anchor="end" font-weight="bold" fill="#222">7</text>
<text transform="translate(171.90,1120.4) rotate(-90)" font-size="5.8" text-anchor="end" font-weight="bold" fill="#222">8</text>
<text transform="translate(187.70,1120.4) rotate(-90)" font-size="5.8" text-anchor="end" font-weight="bold" fill="#222">9</text>
<text transform="translate(203.50,1120.4) rotate(-90)" font-size="5.8" text-anchor="end" font-weight="bold" fill="#222">10</text>
<text transform="translate(219.30,1120.4) rotate(-90)" font-size="5.8" text-anchor="end" font-weight="bold" fill="#222">11</text>
<text transform="translate(235.10,1120.4) rotate(-90)" font-size="5.8" text-anchor="end" font-weight="bold" fill="#222">12</text>
<text transform="translate(250.90,1120.4) rotate(-90)" font-size="5.8" text-anchor="end" font-weight="bold" fill="#222">13</text>
<text transform="translate(266.70,1120.4) rotate(-90)" font-size="5.8" text-anchor="end" font-weight="bold" fill="#222">14</text>
<text transform="translate(282.50,1120.4) rotate(-90)" font-size="5.8" text-anchor="end" font-weight="bold" fill="#222">15</text>
<rect x="99.6" y="1119.1" width="14.7" height="0.7" fill="#5a6ad8" />
<rect x="226" y="1118.5" width="15" height="0.7" fill="#7a86d8" />
<rect x="242" y="1117.5" width="15" height="0.8" fill="#5a6ad8" />
<text x="240.8" y="1132" font-size="3.3" fill="#555" textLength="51.7" lengthAdjust="spacingAndGlyphs" >MEME (no SSC) 18.10.2019 07:50</text>
<text x="130.31" y="1159" font-size="19" textLength="159.29" lengthAdjust="spacingAndGlyphs" >tRNA binding motif</text>
<text x="179.77" y="1187.7" font-size="19" textLength="152.49" lengthAdjust="spacingAndGlyphs" >E-value: 8.6e-209</text>
</g>
<g id="pH">
<text x="406.2" y="1018.8" font-size="22.5" >H</text>
<text x="407.94" y="1090.6" font-size="19" textLength="88.12" lengthAdjust="spacingAndGlyphs" >3’-XXXCC</text>
<text x="407.27" y="1137" font-size="19" textLength="90.98" lengthAdjust="spacingAndGlyphs" >5’-XXXGG</text>
<line x1="475.2" y1="1097.7" x2="475.2" y2="1115.3" stroke="#000" stroke-width="1.5" />
<line x1="490" y1="1097.7" x2="490" y2="1115.3" stroke="#000" stroke-width="1.5" />
<text x="518" y="1080.7" font-size="19" text-anchor="middle" >Y</text>
<text x="542.2" y="1071.1" font-size="19" text-anchor="middle" >N</text>
<text x="564.5" y="1080.7" font-size="19" text-anchor="middle" >A</text>
<text x="586.9" y="1113.8" font-size="19" text-anchor="middle" >N</text>
<text x="565.7" y="1150.3" font-size="19" text-anchor="middle" >C</text>
<text x="542.2" y="1163.9" font-size="19" text-anchor="middle" fill="#de2027" font-weight="bold" >U</text>
<text x="518.5" y="1150.3" font-size="19" text-anchor="middle" >U</text>
<text x="383.8" y="1191.1" font-size="19" textLength="236.85" lengthAdjust="spacingAndGlyphs" >TruB-modified site in tRNAs</text>
</g>
<g id="pI">
<text x="660.8" y="1015.2" font-size="22.5" >I</text>
<text x="706.4" y="1038.5" font-size="19" text-anchor="middle" >A</text>
<text x="685.4" y="1054.2" font-size="19" text-anchor="middle" >C</text>
<text x="664.8" y="1077.9" font-size="19" text-anchor="middle" >A</text>
<text x="685.4" y="1100.5" font-size="19" text-anchor="middle" >C</text>
<text x="706.6" y="1108.3" font-size="19" text-anchor="middle" >U</text>
<text x="721.14" y="1054.2" font-size="19" textLength="41.72" lengthAdjust="spacingAndGlyphs" >CCC</text>
<text x="721.14" y="1099.9" font-size="19" textLength="44.62" lengthAdjust="spacingAndGlyphs" >GGG</text>
<line x1="726.1" y1="1062.4" x2="726.1" y2="1079.6" stroke="#000" stroke-width="1.5" />
<line x1="742.1" y1="1062.4" x2="742.1" y2="1079.6" stroke="#000" stroke-width="1.5" />
<line x1="757.9" y1="1062.4" x2="757.9" y2="1079.6" stroke="#000" stroke-width="1.5" />
<text x="777.8" y="1038.5" font-size="19" text-anchor="middle" >A</text>
<text x="795.24" y="1054.2" font-size="19" textLength="27.42" lengthAdjust="spacingAndGlyphs" >CC</text>
<line x1="801.3" y1="1062.4" x2="801.3" y2="1080.7" stroke="#000" stroke-width="1.5" />
<line x1="816.2" y1="1062.4" x2="816.2" y2="1080.7" stroke="#000" stroke-width="1.5" />
<text x="792.94" y="1099.9" font-size="19" fill="#de2027" font-weight="bold" textLength="30.22" lengthAdjust="spacingAndGlyphs" >GG</text>
<text x="838" y="1040.2" font-size="19" text-anchor="middle" >A</text>
<text x="857.8" y="1057.6" font-size="19" text-anchor="middle" >C</text>
<text x="839.2" y="1109.8" font-size="19" text-anchor="middle" >G</text>
<text x="858.2" y="1103.3" font-size="19" text-anchor="middle" >U</text>
<text x="759.5" y="1124.7" font-size="19" text-anchor="middle" >A</text>
<text x="759.5" y="1147.2" font-size="19" text-anchor="middle" >U</text>
<text x="759.5" y="1170.3" font-size="19" text-anchor="middle" >U</text>
<text x="759.5" y="1193.4" font-size="19" text-anchor="middle" >U</text>
<line x1="761.3" y1="1204.1" x2="761.3" y2="1221.6" stroke="#000" stroke-width="1.5" />
<text x="753.7" y="1239.9" font-size="19" >5’</text>
<text x="798.4" y="1124.7" font-size="19" text-anchor="middle" fill="#de2027" font-weight="bold" >A</text>
<text x="800.7" y="1147.2" font-size="19" text-anchor="middle" fill="#de2027" font-weight="bold" >G</text>
<text x="799.3" y="1170.3" font-size="19" text-anchor="middle" >A</text>
<text x="800.4" y="1193.4" font-size="19" text-anchor="middle" >U</text>
<line x1="803.6" y1="1204.1" x2="803.6" y2="1221.6" stroke="#000" stroke-width="1.5" />
<text x="794.5" y="1239.9" font-size="19" >3’</text>
<text x="661.28" y="1274.6" font-size="19" textLength="243.75" lengthAdjust="spacingAndGlyphs" >Loop sequence of pri-let-7a1</text>
</g>
</svg></body></html>
